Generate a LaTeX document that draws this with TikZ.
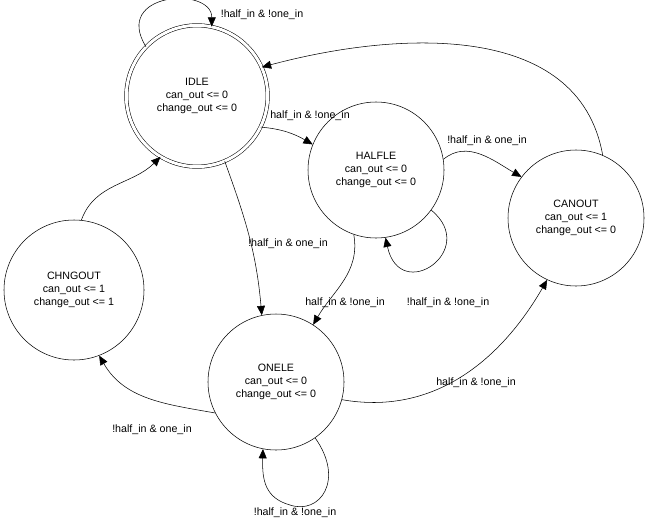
\documentclass[tikz,border=0pt]{standalone}
\usepackage{fontspec}
\setmainfont{Liberation Sans}
\usetikzlibrary{arrows.meta}
\begin{document}
\begin{tikzpicture}[x=0.75pt,y=-0.75pt,
  st/.style={circle,draw,minimum size=102pt,inner sep=0pt,align=center,font=\fontsize{8}{9.5}\selectfont},
  lb/.style={font=\fontsize{8}{9.5}\selectfont},
  e/.style={-{Triangle[length=7pt,width=6pt]}}]
\useasboundingbox (0,0) rectangle (645,521);
\node[st,double,double distance=2.2pt,minimum size=106pt] (idle) at (197,96) {IDLE\\can\_out <= 0\\change\_out <= 0};
\node[st] (half) at (376,170) {HALFLE\\can\_out <= 0\\change\_out <= 0};
\node[st] (can) at (576,218) {CANOUT\\can\_out <= 1\\change\_out <= 0};
\node[st,minimum size=105pt] (chng) at (74,290) {CHNGOUT\\can\_out <= 1\\change\_out <= 1};
\node[st] (one) at (276,382) {ONELE\\can\_out <= 0\\change\_out <= 0};
\draw[e] (idle.136) .. controls (112,-8) and (212,-14) .. (idle.78);
\node[lb] (l1) at (262,15) {!half\_in \& !one\_in};
\draw[e] (idle.-26) to[out=-5,in=150] (half.158);
\node[lb] (l2) at (310,116) {half\_in \& !one\_in};
\draw[e] (idle.-67) to[out=-70,in=95] (one.102);
\node[lb] (l3) at (288,244) {!half\_in \& one\_in};
\draw[e] (half.9) to[out=40,in=150] (can.143);
\node[lb] (l4) at (487,141) {!half\_in \& one\_in};
\draw[e] (half.-36) .. controls (480,250) and (400,305) .. (half.-82);
\node[lb] (l5) at (448,303) {!half\_in \& !one\_in};
\draw[e] (half.-109) to[out=-80,in=60] (one.57);
\node[lb] (l6) at (345,303) {half\_in \& !one\_in};
\draw[e] (can.67) to[out=100,in=15] (idle.24);
\draw[e] (one.-15) to[out=-10,in=-120] (can.-115);
\node[lb] (l8) at (476,383) {half\_in \& !one\_in};
\draw[e] (one.-153) to[out=170,in=-60] (chng.-69);
\node[lb] (l9) at (152,430) {!half\_in \& one\_in};
\draw[e] (one.-55) .. controls (345,480) and (320,515) .. (290,505) .. controls (265,498) and (262,480) .. (one.-101);
\node[lb] (l10) at (295,513) {!half\_in \& !one\_in};
\draw[e] (chng.84) to[out=70,in=-135] (idle.-121);
\end{tikzpicture}
\end{document}
